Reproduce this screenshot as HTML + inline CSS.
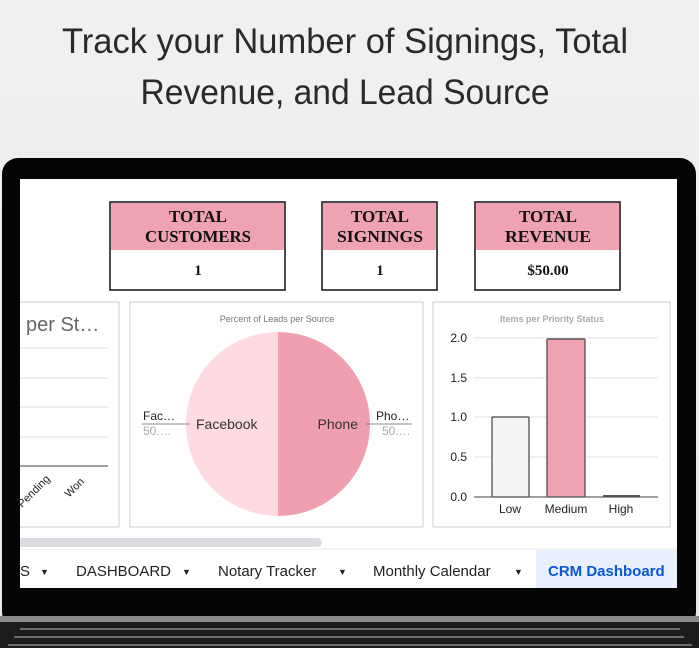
<!DOCTYPE html>
<html><head><meta charset="utf-8"><style>
html,body{margin:0;padding:0;background:#eeeeee;}
svg{display:block}
</style></head><body>
<svg width="699" height="648" viewBox="0 0 699 648" xmlns="http://www.w3.org/2000/svg" font-family="Liberation Sans, sans-serif">
<defs>
<linearGradient id="bg" x1="0" y1="0" x2="0" y2="1"><stop offset="0" stop-color="#f1f1f1"/><stop offset="1" stop-color="#e6e6e6"/></linearGradient>
<clipPath id="scr"><rect x="20" y="179" width="657" height="409"/></clipPath>
</defs>
<rect width="699" height="648" fill="url(#bg)"/>
<text x="345" y="53" text-anchor="middle" font-size="35" fill="#2a2a2a" textLength="566" lengthAdjust="spacingAndGlyphs">Track your Number of Signings, Total</text>
<text x="345" y="104" text-anchor="middle" font-size="35" fill="#2a2a2a" textLength="409" lengthAdjust="spacingAndGlyphs">Revenue, and Lead Source</text>
<!-- laptop -->
<rect x="2" y="158" width="694" height="470" rx="16" fill="#050505"/>
<rect x="0" y="616" width="699" height="7" fill="#8a8a8a"/>
<rect x="0" y="622" width="699" height="26" fill="#1c1c1c"/>
<g fill="#bbb">
<rect x="20" y="628" width="660" height="2" opacity=".5"/>
<rect x="14" y="636" width="670" height="2" opacity=".5"/>
<rect x="8" y="644" width="684" height="2" opacity=".5"/>
</g>
<!-- screen -->
<rect x="20" y="179" width="657" height="409" fill="#fff"/>
<g clip-path="url(#scr)">
<!-- cards -->
<g font-family="Liberation Serif, serif" font-weight="bold" text-anchor="middle" fill="#111">
<rect x="110" y="202" width="175" height="88" fill="#fff" stroke="#111" stroke-width="1.5"/>
<rect x="111" y="203" width="173" height="47" fill="#efa2b1"/>
<text x="198" y="222" font-size="17">TOTAL</text><text x="198" y="242" font-size="17" textLength="106" lengthAdjust="spacingAndGlyphs">CUSTOMERS</text>
<text x="198" y="275" font-size="15">1</text>
<rect x="322" y="202" width="115" height="88" fill="#fff" stroke="#111" stroke-width="1.5"/>
<rect x="323" y="203" width="113" height="47" fill="#efa2b1"/>
<text x="380" y="222" font-size="17">TOTAL</text><text x="380" y="242" font-size="17" textLength="86" lengthAdjust="spacingAndGlyphs">SIGNINGS</text>
<text x="380" y="275" font-size="15">1</text>
<rect x="475" y="202" width="145" height="88" fill="#fff" stroke="#111" stroke-width="1.5"/>
<rect x="476" y="203" width="143" height="47" fill="#efa2b1"/>
<text x="548" y="222" font-size="17">TOTAL</text><text x="548" y="242" font-size="17" textLength="86" lengthAdjust="spacingAndGlyphs">REVENUE</text>
<text x="548" y="275" font-size="15">$50.00</text>
</g>
<!-- left panel -->
<rect x="10" y="302" width="109" height="225" fill="#fff" stroke="#ccc"/>
<text x="26" y="331" font-size="20" fill="#666">per St…</text>
<g stroke="#ddd"><line x1="20" y1="348" x2="108" y2="348"/><line x1="20" y1="378" x2="108" y2="378"/><line x1="20" y1="407" x2="108" y2="407"/><line x1="20" y1="437" x2="108" y2="437"/></g>
<line x1="20" y1="466" x2="108" y2="466" stroke="#666" stroke-width="1.2"/>
<text transform="translate(22,508) rotate(-45)" font-size="11" fill="#222">Pending</text>
<text transform="translate(69,498) rotate(-45)" font-size="11" fill="#222">Won</text>
<!-- pie panel -->
<rect x="130" y="302" width="293" height="225" fill="#fff" stroke="#ccc"/>
<text x="277" y="322" text-anchor="middle" font-size="9" fill="#777">Percent of Leads per Source</text>
<path d="M278,332 A92,92 0 0 0 278,516 Z" fill="#fddbe1"/>
<path d="M278,332 A92,92 0 0 1 278,516 Z" fill="#ef9fb0"/>
<text x="196" y="429" font-size="14" fill="#333">Facebook</text>
<text x="358" y="429" font-size="14" fill="#333" text-anchor="end">Phone</text>
<line x1="142" y1="424" x2="190" y2="424" stroke="#888"/>
<line x1="366" y1="424" x2="412" y2="424" stroke="#888"/>
<text x="143" y="420" font-size="12" fill="#222">Fac…</text>
<text x="143" y="435" font-size="12" fill="#aaa">50.…</text>
<text x="376" y="420" font-size="12" fill="#222">Pho…</text>
<text x="382" y="435" font-size="12" fill="#aaa">50.…</text>
<!-- bar panel -->
<rect x="433" y="302" width="237" height="225" fill="#fff" stroke="#ccc"/>
<text x="552" y="322" text-anchor="middle" font-size="9" font-weight="bold" fill="#aaa">Items per Priority Status</text>
<g stroke="#e2e2e2"><line x1="474" y1="338" x2="658" y2="338"/><line x1="474" y1="378" x2="658" y2="378"/><line x1="474" y1="417" x2="658" y2="417"/><line x1="474" y1="457" x2="658" y2="457"/></g>
<g font-size="12" fill="#222" text-anchor="end">
<text x="467" y="342">2.0</text><text x="467" y="382">1.5</text><text x="467" y="421">1.0</text><text x="467" y="461">0.5</text><text x="467" y="501">0.0</text>
</g>
<rect x="492" y="417" width="37" height="80" fill="#f4f4f4" stroke="#444" stroke-width="1.2" rx="1"/>
<rect x="547" y="339" width="38" height="158" fill="#efa2b1" stroke="#444" stroke-width="1.2" rx="1"/>
<line x1="603" y1="496" x2="640" y2="496" stroke="#222" stroke-width="1.5"/>
<line x1="474" y1="497" x2="658" y2="497" stroke="#666" stroke-width="1.2"/>
<g font-size="12" fill="#222" text-anchor="middle">
<text x="510" y="513">Low</text><text x="566" y="513">Medium</text><text x="621" y="513">High</text>
</g>
<!-- scrollbar -->
<rect x="14" y="538" width="308" height="9" rx="4.5" fill="#dadce0"/>
<line x1="20" y1="549" x2="677" y2="549" stroke="#e8e8e8"/>
<!-- tabs -->
<rect x="536" y="550" width="141" height="38" fill="#e8f0fe"/>
<g font-size="15" fill="#222">
<text x="20" y="576">S</text><text x="40" y="575" font-size="9">▼</text>
<text x="76" y="576">DASHBOARD</text><text x="182" y="575" font-size="9">▼</text>
<text x="218" y="576">Notary Tracker</text><text x="338" y="575" font-size="9">▼</text>
<text x="373" y="576">Monthly Calendar</text><text x="514" y="575" font-size="9">▼</text>
<text x="548" y="576" fill="#0b57d0" font-weight="bold">CRM Dashboard</text>
</g>
</g>
</svg>
</body></html>
